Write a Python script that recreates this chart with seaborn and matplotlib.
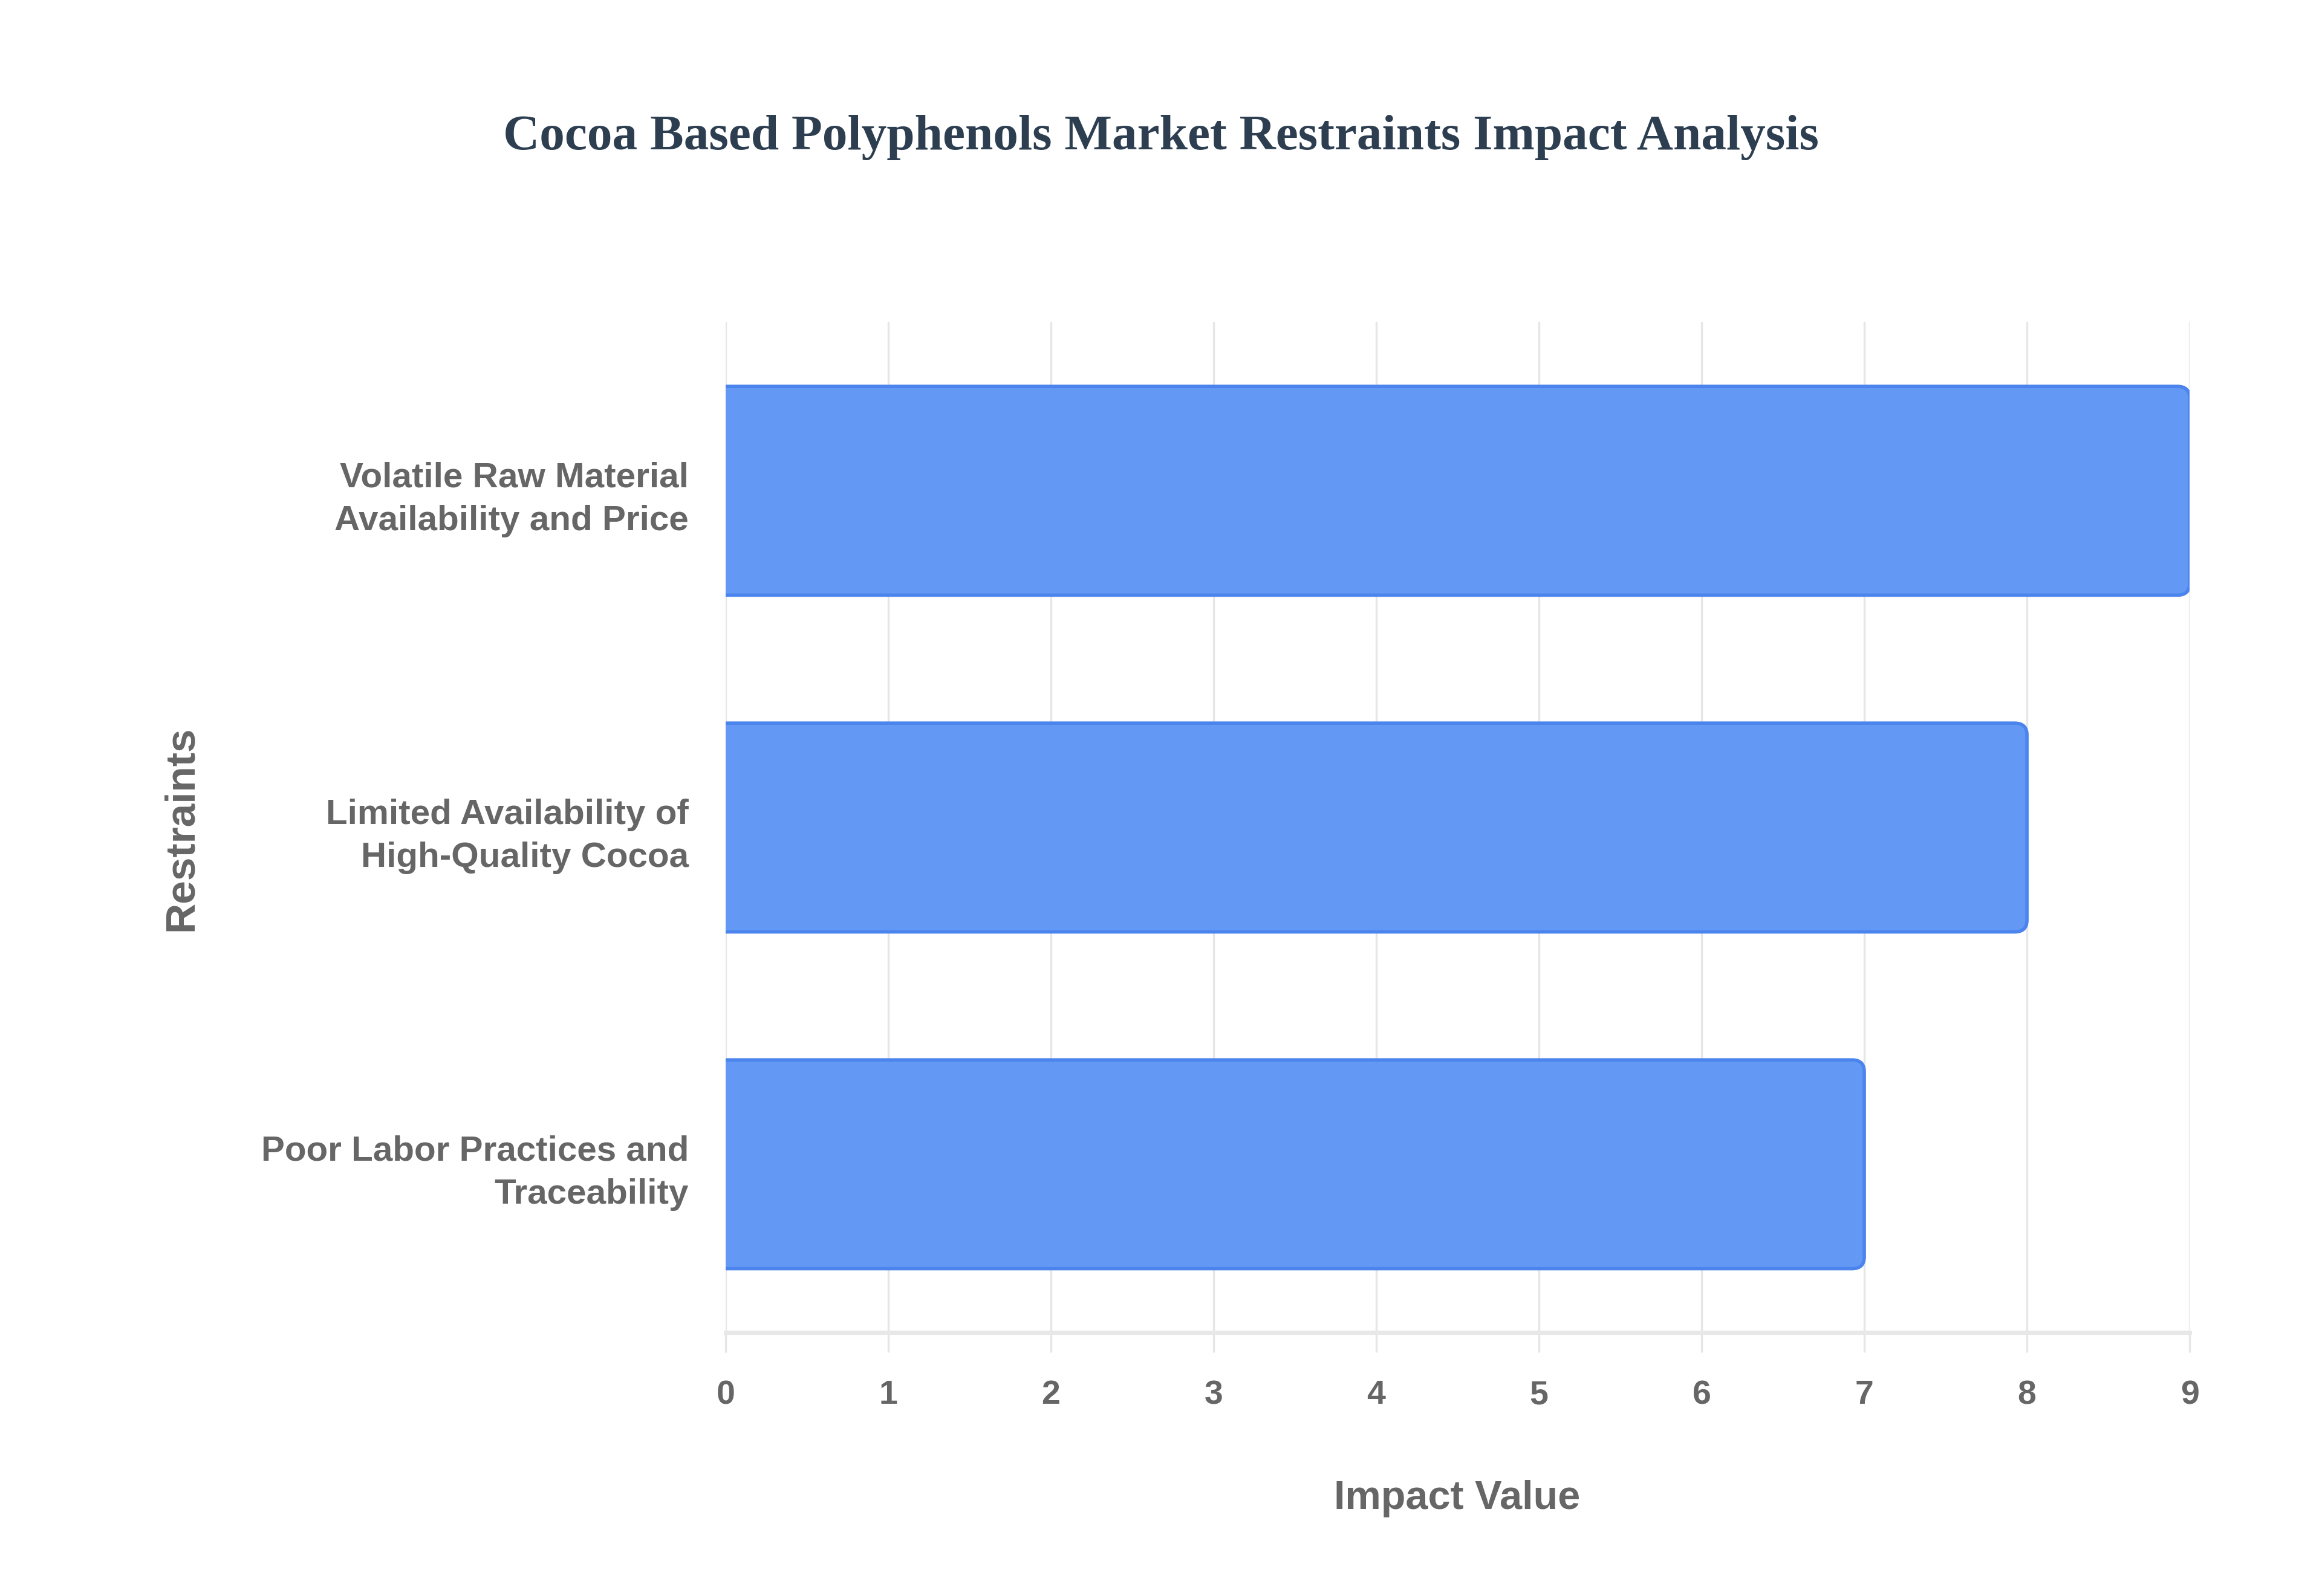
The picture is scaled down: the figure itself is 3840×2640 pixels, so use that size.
import matplotlib
matplotlib.use("Agg")
import matplotlib.pyplot as plt
from matplotlib.patches import FancyBboxPatch
import seaborn as sns
import pandas as pd

categories = ["Volatile Raw Material\nAvailability and Price",
              "Limited Availability of\nHigh-Quality Cocoa",
              "Poor Labor Practices and\nTraceability"]
impact = [9, 8, 7]
xticks = [0, 1, 2, 3, 4, 5, 6, 7, 8, 9]

title = "Cocoa Based Polyphenols Market Restraints Impact Analysis"
xlabel = "Impact Value"
ylabel = "Restraints"

sns.set_theme(style="white")
plt.rcParams['font.family'] = ['Liberation Sans', 'DejaVu Sans']

df = pd.DataFrame({"Restraint": categories, "Impact": impact})

fig = plt.figure(figsize=(19.2, 13.2), dpi=200)
ax = fig.add_axes([0.3125, 0.165, 0.943 - 0.3125, 0.798 - 0.165])

sns.barplot(data=df, x="Impact", y="Restraint", orient="h", ax=ax,
            color="#6399f5", saturation=1, width=0.62,
            edgecolor="#4a84ec", linewidth=2.0, zorder=3)

ax.set_xlim(0, 9)
ax.set_ylim(2.5, -0.5)

# round the right-hand corners of the bars drawn by seaborn
r = 0.075
for p in list(ax.patches):
    x0, y0 = p.get_x(), p.get_y()
    w, h = p.get_width(), p.get_height()
    fb = FancyBboxPatch((x0 - 2 * r, y0), w + 2 * r, h,
                        boxstyle=f"round,pad=0,rounding_size={r}",
                        mutation_aspect=0.47,
                        facecolor=p.get_facecolor(), edgecolor=p.get_edgecolor(),
                        linewidth=2.0, zorder=3, clip_on=True)
    p.remove()
    ax.add_patch(fb)

ax.set_xticks(xticks)
ax.set_xticklabels([str(t) for t in xticks])

for s in ["top", "right", "left"]:
    ax.spines[s].set_visible(False)
ax.spines["bottom"].set_color("#e8e8e8")
ax.spines["bottom"].set_linewidth(2.5)

ax.grid(axis="x", color="#e6e6e6", linewidth=1.2, zorder=0)
ax.set_axisbelow(True)
ax.tick_params(axis="x", length=12, width=1.2, color="#e6e6e6", pad=16,
               labelsize=20, labelcolor="#666666", bottom=True)
ax.tick_params(axis="y", length=0, pad=22, labelsize=21, labelcolor="#666666")
for lab in ax.get_xticklabels():
    lab.set_fontweight("bold")
for lab in ax.get_yticklabels():
    lab.set_fontweight("bold")
    lab.set_linespacing(1.4)

ax.set_xlabel("")
ax.set_ylabel("")
fig.text(0.6275, 0.061, xlabel, ha="center", va="center", fontsize=24,
         fontweight="bold", color="#666666")
fig.text(0.078, 0.481, ylabel, ha="center", va="center", rotation=90,
         fontsize=25, fontweight="bold", color="#666666")
fig.text(0.5, 0.914, title, ha="center", va="center", fontsize=30,
         fontweight="bold", color="#2c3e50", family=["Liberation Serif", "DejaVu Serif"])

fig.savefig("out.png", dpi=200, facecolor="white")
